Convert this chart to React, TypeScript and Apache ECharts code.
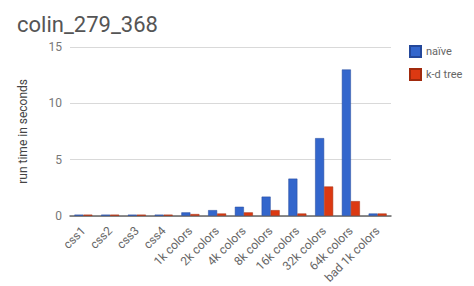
import React, { useEffect, useRef } from "react";
import * as echarts from "echarts";

const categories = ["css1", "css2", "css3", "css4", "1k colors", "2k colors", "4k colors", "8k colors", "16k colors", "32k colors", "64k colors", "bad 1k colors"];
const naive = [0.1, 0.1, 0.1, 0.1, 0.3, 0.5, 0.8, 1.7, 3.3, 6.9, 13.0, 0.2];
const kdTree = [0.1, 0.1, 0.1, 0.1, 0.15, 0.2, 0.3, 0.5, 0.2, 2.6, 1.3, 0.2];
const yTicks = [0, 5, 10, 15];

export default function App() {
  const ref = useRef<HTMLDivElement>(null);
  useEffect(() => {
    const chart = echarts.init(ref.current!, undefined, { renderer: "svg" });
    chart.setOption({
      animation: false,
      title: {
        text: "colin_279_368",
        left: 12,
        top: 8,
        textStyle: { fontFamily: "Roboto", fontSize: 22, fontWeight: "normal", color: "#555" },
      },
      legend: {
        orient: "vertical",
        left: 404,
        top: 40,
        itemWidth: 11,
        itemHeight: 11,
        itemGap: 10,
        icon: "rect",
        textStyle: { fontFamily: "Roboto", fontSize: 11, color: "#666" },
        data: ["naïve", "k-d tree"],
      },
      grid: { left: 70, right: 83, top: 47, bottom: 69 },
      xAxis: {
        type: "category",
        data: categories,
        axisLine: { lineStyle: { color: "#666", width: 1.5 } },
        axisTick: { show: false },
        axisLabel: { rotate: 45, fontFamily: "Roboto", fontSize: 12, color: "#666", margin: 13, interval: 0 },
      },
      yAxis: {
        type: "value",
        min: 0,
        max: yTicks[yTicks.length - 1],
        interval: 5,
        name: "run time in seconds",
        nameLocation: "middle",
        nameGap: 41,
        nameTextStyle: { fontFamily: "Roboto", fontSize: 12, color: "#444" },
        axisLabel: { fontFamily: "Roboto", fontSize: 12, color: "#777", margin: 8 },
        splitLine: { lineStyle: { color: "#d9d9d9" } },
        axisLine: { show: false },
      },
      series: [
        {
          name: "naïve",
          type: "bar",
          data: naive,
          barWidth: 9,
          barGap: "0%",
          itemStyle: { color: "#3366cc", borderColor: "#24489a", borderWidth: 0.5 },
        },
        {
          name: "k-d tree",
          type: "bar",
          data: kdTree,
          barWidth: 9,
          itemStyle: { color: "#dc3912", borderColor: "#a12a0d", borderWidth: 0.5 },
        },
      ],
    });
    return () => chart.dispose();
  }, []);
  return <div ref={ref} style={{ width: 474, height: 286, position: "absolute", left: 0, top: 0, background: "#fff" }} />;
}
